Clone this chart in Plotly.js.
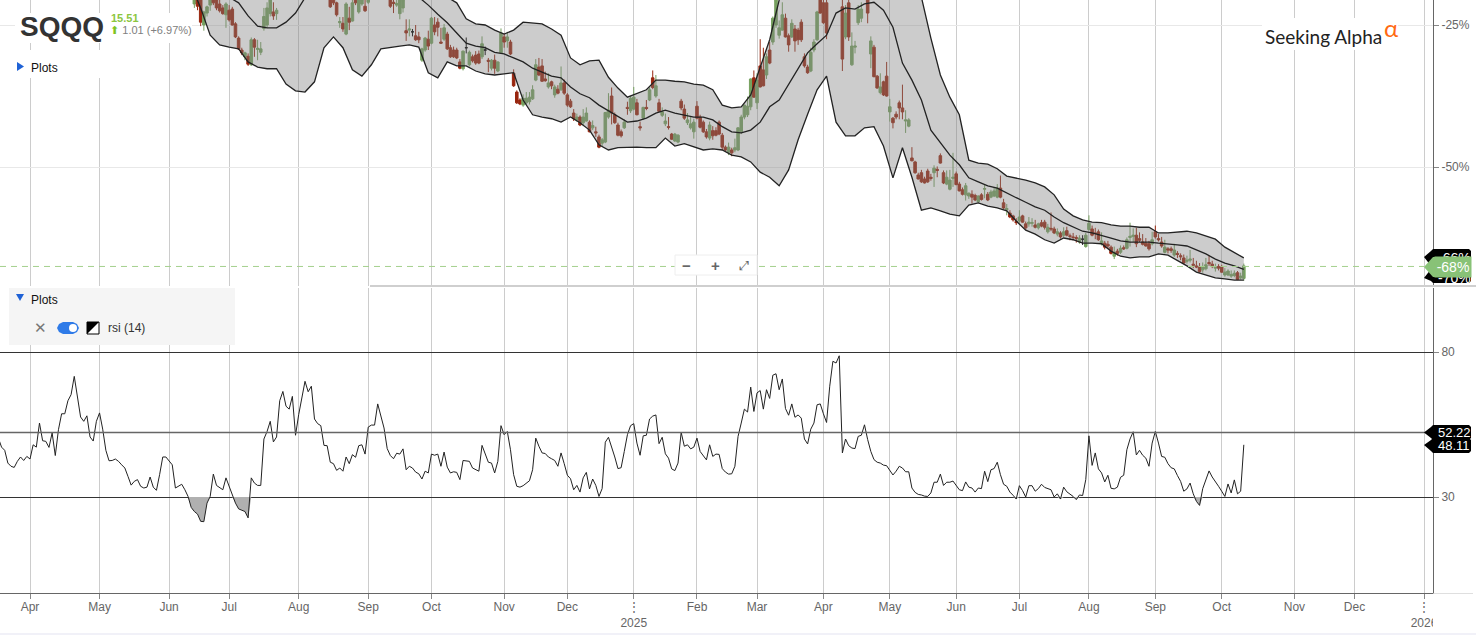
<!DOCTYPE html>
<html><head><meta charset="utf-8">
<script src="https://cdn.plot.ly/plotly-3.0.1.min.js"></script>
<style>html,body{margin:0;padding:0;background:#fff;overflow:hidden}#chart{width:1476px;height:635px}</style>
</head><body><div id="chart"></div>
<script>
// ---- calendar ----
const holidays = ["2024-03-29","2024-05-27","2024-06-19","2024-07-04","2024-09-02","2024-11-28","2024-12-25","2025-01-01","2025-01-09","2025-01-20","2025-02-17","2025-04-18","2025-05-26","2025-06-19","2025-07-04","2025-09-01","2025-11-27","2025-12-25","2026-01-01","2026-01-19"];
const monthTickDates = ["2024-04-01","2024-05-01","2024-06-03","2024-07-01","2024-08-01","2024-09-03","2024-10-01","2024-11-01","2024-12-02","2025-01-02","2025-02-03","2025-03-03","2025-04-01","2025-05-01","2025-06-02","2025-07-01","2025-08-01","2025-09-02","2025-10-01","2025-11-03","2025-12-01","2026-01-02"];
const monthTickLabels = ["Apr","May","Jun","Jul","Aug","Sep","Oct","Nov","Dec","⋮<br>2025","Feb","Mar","Apr","May","Jun","Jul","Aug","Sep","Oct","Nov","Dec","⋮<br>2026"];
const lastSessionDate = "2025-10-10";

// ---- RSI (14), one value per session, ending on the last session ----
const rsiPart1 = [50.3,47.2,46.1,41.7,40.6,40.2,42.3,43.8,42.6,44,43.1,48,47.2,55.5,49.4,49.2,47.1,52.1,44.3,53.2,58.7,58.7,63.2,65.3,71.6,65.3,57.6,56.1,58,50.7,49.3,56.1,59,53.4,46.1,42.5,42.6,43.1,42.3,41.1,40,37.1,34.1,35.4,36,33.7,33.1,33.4,36.9,33.4,32.3,37.7,43.8,43.8,42.3,41.1,33.1,33.7,34.4,32.5,30.2,26.4,25,24.1,21.6,21.5,27.9,30.2,37.9,34,33.1,32.5,36.6,33.7,30.8,27.9,25.9,25.5,25,22.8,36.6,34.8,34,34,50,52.6,56.1,49,50.7,63.2,66.4,61.3,60.3,64.7,51.3,58.4,64.1,69.9,66.3,68.2,56.9,55.3,54.6,47.8,47.7,42,41.5,39.2,40,38.9,43.8,41.5,44.6,43.7,47.7,48,44.8,54.1,54.8,54.8,62.1,57.6,53.8,46.7,44.3,43.2,45.1,44.8,46.6,39.4,40.6,40,38.6,38,36.2,38.9,38.3,44.8,44.4,44.8,40.6,45.5,40.3,38.3,38.7,38.5,36,42.6,42.5,42.3,40,39.4,38.9,47.8,44.6,42,41.7,38.3,42.3];
const rsiPart2 = [54.6,51.5,52.6,46.3,37.7,33.7,33.4,33.9,34.8,35.6,39.4,50.3,47.5,45.2,45,43.8,43.2,42.6,40.6,45.2,41.5,37.5,36.3,32.5,34,31.7,36.6,38.5,32.8,36.2,34,30.2,32.9,48.9,50.6,47.5,43.8,39.8,40.1,45.7,51.5,54.6,55.3,48.6,44.4,51.1,51.3,56.9,57.9,58.3,48.4,50.6,44.9,43.4,39.7,39.1,41.7,52.3,47.5,48,46.6,47.2,50.3,45.7,44.3,42.8,48,44,44.8,44.7,39.8,38.6,37.9,38,40.6,50.9,55.5,60.3,59.3,67.9,59.5,65.9,66.7,60.3,67,64,72,72.5,67,70.7,60.5,58.2,62.1,57.5,58.3,57.2,50,48.3,53.4,55.5,61.8,62.1,58.7,55.7,68.2,76.8,76.2,78.7,45.2,50,47.7,46.9,46.7,50.9,51.3,54.9,49.8,45.7,42.9,42,41.7,41,40.8,39.4,37.6,38.9,40.6,40,38.7,38.7,33.1,31.6,30.9,30.7,30.3,30.2,31.4,35.1,35.1,37.9,34,35.1,35.1,35.5,34,32.5,32.2,35.2,33.4,33.1,31.7,33.1,32.9,38.9,35.3,39.4,39.8,42];
const rsiPart3 = [37.7,34.4,33.7,31.7,30.6,29.3,33.9,32.2,30,33.9,33.9,32,32.9,34.4,33.3,32.9,32.5,30,31.1,29.3,33.4,31.8,31.1,30.2,29.1,30.7,30.5,36,51.1,40.9,45.2,39.7,38.3,35.2,37.5,33,32.8,33.4,36.8,37.5,46.3,50,52.5,44.5,46.1,44.4,43.4,40.6,48.6,52.6,48.6,44,43.7,41.5,40.1,39.7,37.4,35.4,32,32.8,34.8,31.1,28.5,27.1,32.9,36,39,36.9,35.1,33.7,32,30.2,34.5,31.4,35.9,31.1,32,48];
const rsiUpperLevel = 80, rsiLowerLevel = 30, rsiMiddleLevel = 52.22, rsiLastValue = 48.11;
const priceMarkerPct = -67.5;

// ---- Bollinger bands in % change, one sample every third session, ending on the last session ----
const bandStepSessions = 3;
const bandUpper = [-3,-4.8,-6.5,-8.3,-9.7,-10.9,-11.8,-12.7,-13.2,-13.2,-12.7,-11.8,-10.9,-10.4,-10,-9.7,-9.2,-9.2,-9.2,-9.2,-9.7,-10.4,-12.7,-15.3,-17.1,-18.1,-19,-20.1,-21.1,-23.9,-24.8,-25,-25.9,-26.6,-25.9,-24.5,-24.6,-24.8,-25.7,-26.8,-30.8,-32,-31.3,-31.2,-34.2,-36.1,-37.7,-37.1,-36.4,-34.7,-34.7,-34.9,-35,-35.4,-35.6,-36.4,-39.1,-39.6,-39.4,-37.3,-32.4,-27.6,-20.6,-17.1,-13.6,-11.8,-10.9,-10.9,-11.8,-12.7,-13.6,-13.6,-14.4,-15.3,-16.2,-17.4,-18.8,-20.1,-27.3,-33.8,-37.7,-40.8,-48.8,-49.3,-49.5,-50.3,-51.6,-51.9,-52.3,-52.8,-53.5,-54.9,-57.4,-58.6,-59.3,-59.7,-59.8,-60.2,-60.4,-60.4,-60.6,-60.6,-61.6,-61.6,-61.4,-61.3,-61.6,-62.1,-62.7,-64.1,-65.1,-66];
const bandMiddle = [-10.9,-14.4,-16.7,-18.5,-20.1,-21.1,-23.4,-25.2,-25.5,-25.5,-24.5,-22.9,-20.2,-18.5,-16.7,-15.3,-13.9,-13.2,-12.7,-12.7,-12.9,-13.6,-15.7,-18.1,-20.1,-21.5,-23.1,-24.6,-26.4,-28.2,-28.7,-29,-29.8,-30.1,-30.8,-31.5,-32.6,-33.3,-34,-34.3,-35.9,-37.1,-37.8,-39.1,-40.1,-41.2,-42.1,-41.9,-41.4,-40.5,-40,-40.5,-40.8,-41.2,-41.2,-41.7,-42.9,-43.8,-44,-43.5,-42.1,-39.4,-38.2,-35.4,-32.6,-29.9,-28.3,-26.8,-22.9,-22,-22.2,-21.3,-21,-22.4,-25.4,-31.7,-34.7,-38.2,-43.5,-45.8,-47.9,-49.6,-51.9,-52.6,-53.3,-53.7,-54.6,-55.4,-56.2,-57,-57.6,-58.8,-59.8,-60.6,-61.3,-61.6,-62,-62.5,-63,-63.2,-63.2,-63.2,-63.4,-63.5,-63.7,-63.9,-64.6,-65.3,-66.2,-66.9,-67.4,-68];
const bandLower = [-18,-22,-26.8,-28.5,-28.9,-29.2,-31.5,-32.4,-32.7,-32.7,-35.4,-36.6,-36.8,-35,-29,-27.1,-29,-32.9,-34,-32,-29.2,-28.9,-28.7,-28.5,-28.9,-33.4,-34.3,-31.5,-32.2,-32.2,-33.1,-33.6,-33.8,-33.6,-33.4,-38.2,-40.8,-41.2,-41.5,-42.1,-41.2,-42.2,-43.5,-46.1,-47,-46.6,-46.5,-46.5,-46.6,-46.6,-44.9,-46.3,-45.9,-46.5,-47,-46.8,-47,-47.9,-48.2,-49.1,-50.9,-51.8,-53.3,-50.5,-45.2,-40.7,-36.4,-34,-42.1,-44.5,-44.5,-43.1,-42.9,-46.3,-51.9,-46.6,-51.8,-57.6,-57.2,-57.7,-58.3,-58.6,-56.7,-56.3,-56.9,-57.2,-57.7,-59.5,-61.1,-61.8,-62.8,-63.4,-62.5,-62.8,-63.4,-63.4,-63.5,-64.8,-65.7,-66,-65.8,-65.8,-65.3,-65.5,-66.4,-67.4,-68.5,-69,-69.5,-69.7,-69.9,-69.9];

// ---- candles as [open, high, low, close] in % change; sessions above the visible range are left empty ----
const offChart = n => Array(n).fill([null,null,null,null]);
const candlesSummer2024 = [[-21.3,-20,-22,-20.6],[-20.5,-20,-22.4,-21.7],[-20.5,-20,-25.2,-24.5],[-25,-22.5,-26,-22.7],[-22.9,-21.6,-23.5,-21.8],[-21.5,-20,-22.5,-20.6],[-20.3,-20,-21.5,-21.1],[-20.6,-20,-22.4,-22],[-21.3,-20.6,-22.8,-22.5],[-22,-21.5,-23.2,-23],[-23.2,-21,-25.5,-21.3],[-22.4,-21.5,-24.4,-24.1],[-22.2,-21.8,-25.1,-25],[-24.8,-24.5,-27.3,-27.1],[-27.3,-27,-29.4,-29.2],[-29.4,-29,-30.3,-29.9],[-30.6,-29.7,-31.2,-29.9],[-30.5,-30,-32.2,-31.9],[-32,-27.2,-32.2,-27.6],[-27.6,-27.3,-30.6,-28.9],[-29.3,-27.6,-31.2,-29.1],[-29.8,-28,-30.3,-29.2],[-25.6,-22,-26,-23.5],[-25,-21,-25.5,-22],[-23,-20,-23.5,-20.6],[-22.7,-21,-24.1,-23.4],[-23,-22,-24.1,-22.4]];
const candlesFall2024a = [[-20.5,-20,-22,-21.8],[-20.5,-20,-21.5,-21.1],[-21.1,-20.9,-23.5,-23.2],[-24.6,-23.6,-25.5,-24.4],[-24.7,-23.6,-26.2,-25.7],[-26.6,-21,-26.8,-21.3],[-23.8,-21.8,-25.9,-24.5],[-24.3,-20.6,-24.4,-21.1],[-20.4,-20,-21.5,-21.1],[-22.7,-20,-23,-20.6],[-21.3,-20,-21.6,-20.5],[-21.7,-20.6,-22.7,-22.5],[-21,-20,-21.3,-20.4]];
const candlesFall2024b = [[-20.5,-20,-22,-21.7],[-21,-20.6,-22.9,-21.2],[-21.5,-20.6,-21.8,-21.2],[-23,-20.2,-24,-20.6],[-22,-20,-22.8,-20.6],[-26,-24,-27.8,-26.4],[-25.9,-24,-27,-25.7],[-26.2,-25.7,-27,-26.2],[-26.9,-25,-27.8,-27.6],[-27.1,-26.2,-28.2,-27.6],[-31.2,-29,-31.5,-29.2],[-29.4,-27.1,-29.7,-27.3],[-27.5,-26,-29.4,-28.7],[-28.2,-23.6,-28.4,-23.8],[-25,-23.6,-26.8,-26.2],[-24.5,-23.8,-27,-25.4],[-28,-25.5,-28.3,-28.2],[-27.5,-24.8,-27.8,-25.5],[-26.6,-26.2,-29.4,-29.2],[-29,-28.5,-30.8,-30.6],[-29.4,-28.8,-30.8,-30.6],[-29.4,-29,-31,-30.8],[-31.5,-31,-32.8,-32.6],[-32.7,-29.5,-33,-29.6],[-29,-27.2,-30,-29],[-32,-29.5,-32.3,-29.8],[-30.6,-30.2,-31.6,-31.3],[-30.3,-29.6,-32,-31.7],[-30.1,-29.5,-31.9,-31.7],[-30.6,-27,-31,-28.3],[-29.4,-28.8,-30.3,-29.4],[-31.2,-30.8,-33.3,-31.4],[-32.6,-31,-33,-31.2],[-31.2,-30.2,-33.6,-32.6],[-33.1,-31.4,-33.3,-31.5]];
const candlesWinter2025 = [[-29.9,-25.6,-30.1,-26.4],[-27.1,-26.5,-29,-28],[-27.8,-26.2,-29,-27.1],[-28,-27.6,-30.3,-30.1],[-33.5,-32.8,-35.9,-35.7],[-36.8,-36.5,-38.9,-38.7],[-38.2,-37.9,-39.1,-38.9],[-39.1,-37.2,-39.4,-37.9],[-38.7,-36.8,-39,-37.9],[-38.5,-36.8,-39,-37.7],[-38,-35.6,-38.2,-36.4],[-34.7,-31,-34.9,-32],[-32.4,-30.8,-34,-33.8],[-32.2,-31,-35,-34.9],[-34.5,-33.2,-35,-34.8],[-35.9,-33.5,-36.2,-35.2],[-35,-34.8,-36.3,-35.7],[-37.3,-35.5,-37.8,-35.9],[-36.3,-35.6,-37.2,-37],[-36.4,-32.3,-36.6,-35.2],[-35.2,-34.6,-37.3,-37],[-37.3,-37,-39.4,-39.1],[-38.4,-38,-39.6,-39.4],[-40.5,-39.8,-41.9,-41.5],[-41.7,-40.6,-42,-41.2],[-41.2,-40.9,-42.8,-42.6],[-42.2,-39.8,-42.8,-41.2],[-41.9,-39.5,-42,-40.5],[-42.1,-41.8,-43.9,-43.8],[-43.1,-41.8,-43.5,-42.7],[-43.8,-42.9,-44.7,-44],[-44.7,-44.3,-46.7,-46.5],[-45.8,-44.9,-46.3,-45.2],[-45.6,-40.3,-45.8,-40.4],[-41.2,-37,-41.5,-40],[-37.5,-36,-42.5,-40.5],[-40.8,-40.4,-42.4,-42.2],[-42.6,-42.2,-44.6,-44.4],[-43.8,-43.4,-44.8,-44.5],[-43.1,-41.6,-43.3,-42.1],[-39.5,-38.5,-40.8,-39.7],[-40.1,-37.5,-40.5,-37.9],[-39.8,-35.9,-40,-37.7],[-38.7,-38,-40.9,-40.8],[-42.9,-42,-43.6,-43.1],[-41.4,-39.4,-41.7,-39.5],[-39.5,-38.2,-40,-39.7],[-38.2,-36,-38.4,-36.4],[-34.3,-33,-36.3,-36],[-37.5,-33.8,-37.8,-35.7],[-38.7,-38,-40.3,-40.2],[-40.9,-39.5,-41.2,-40.3],[-42.4,-40.6,-42.8,-41.9],[-42.9,-41.2,-43.4,-43],[-44.2,-44,-45.2,-45.1],[-45.4,-44,-45.6,-44.2],[-45.6,-44.2,-45.8,-44.4],[-38.4,-38,-40,-39.6],[-39.8,-39,-41.7,-41.4],[-42.2,-40.5,-42.6,-41.7],[-43.1,-41,-43.4,-42.4],[-43.8,-41.5,-45,-42.1],[-39.3,-38.4,-41.6,-41.4],[-41.2,-40.8,-43.2,-43],[-42.1,-41.8,-44,-43.8],[-43.8,-43.3,-45,-44.7],[-44.9,-42,-45.3,-42.6],[-43.6,-42.8,-45.2,-44.5],[-43.6,-43,-44.6,-44.4],[-42.1,-41.8,-44.4,-44.2],[-44.4,-44,-47,-46.5],[-46.5,-46.2,-47.3,-47],[-47.4,-45.7,-47.9,-46.5],[-47,-46.6,-48.1,-47.5],[-47,-45,-47.4,-46.6]];
const candlesSpring2025a = [[-47,-43,-47.2,-43.1],[-43.8,-40.8,-44.2,-41.2],[-41.2,-39,-41.6,-39.1],[-40.8,-37.6,-41.2,-39.3],[-39.4,-34.4,-40,-34.5],[-34.3,-33,-37.8,-37.7],[-38.7,-33.5,-39.8,-34.7],[-32.2,-27.5,-36,-35.9],[-32.9,-29,-35.8,-35.7],[-33.8,-30,-34.5,-30.6],[-29.4,-28,-31.9,-31.7],[-28,-23.5,-28.5,-23.8],[-25,-20,-25.5,-20.6],[-26.8,-24.2,-27.4,-25.5],[-25.9,-21,-26,-23.2],[-23.8,-23,-27.2,-27.1],[-26.9,-26.5,-29.7,-28.5],[-27.1,-24,-27.3,-24.7],[-25.7,-25,-29.7,-27.8],[-25.9,-25.5,-28.5,-27.6],[-24.5,-24,-28,-27.6],[-30.6,-30,-32.5,-32.2],[-32.4,-32,-33.6,-33.4],[-33.1,-29,-33.3,-29.8],[-29.4,-27.5,-29.8,-28],[-27.6,-22.5,-27.8,-22.7],[-20.5,-20,-23,-22.9],[-21.1,-20.5,-24.8,-24.6],[-21.1,-20.5,-27.5,-26.4]];
const candlesSpring2025b = [[-21.8,-20.5,-33.1,-31],[-27.1,-21.5,-27.5,-22.9],[-21.1,-20.6,-27.8,-27.1],[-32,-26.3,-32.2,-28.7],[-28.9,-27.8,-30,-28.7],[-24.6,-21.5,-25,-22.2],[-23.8,-21,-24.5,-22.2]];
const candlesSpring2025c = [[-20.5,-20,-24.7,-22.9],[-30.1,-27,-32.6,-27.8],[-28.9,-28.5,-34.2,-34.1],[-34,-33.8,-36.2,-36.1],[-36.9,-33.5,-37.2,-35.9],[-35,-34.8,-37.5,-37.3],[-34,-31.5,-37.6,-37.5],[-40.3,-38,-42,-39.4],[-41.4,-41.2,-43.2,-42.2],[-40.7,-40.2,-41.6,-41.2],[-38.7,-38.3,-41.6,-39.6],[-39.6,-35.5,-41.6,-40.3],[-41.9,-40,-44,-41.7],[-42.8,-41.4,-43,-41.7]];
const candlesSummer2025 = [[-48.4,-46.5,-49,-48.9],[-49.1,-48.9,-51.2,-51],[-51.4,-51,-52.2,-52.1],[-51,-50.5,-52.8,-52.6],[-52.1,-51.7,-52.9,-52.8],[-50.7,-50.3,-52.8,-52.6],[-51.8,-51.2,-52.4,-52],[-51,-49.7,-53.5,-50.2],[-50.4,-49.9,-51.8,-50.6],[-48,-47.6,-49.4,-49.3],[-51,-50.6,-53,-52.8],[-53,-50.6,-53.2,-51.8],[-53.9,-50.5,-54.1,-52.3],[-52,-47.5,-53.5,-51.8],[-51.2,-50.8,-53.2,-53.1],[-53,-52.6,-54.3,-54.2],[-54,-53.6,-55,-54.8],[-54.9,-52.8,-55.9,-53.3],[-55.1,-54.5,-55.6,-54.6],[-54.8,-54.1,-56.4,-55.3],[-55,-54.7,-56,-55.8],[-56.1,-55,-56.3,-55.1],[-54.9,-54.6,-55.9,-55.7],[-53.9,-53,-55.5,-53.8],[-54.8,-54.4,-56,-55.8],[-55.3,-54,-55.5,-54.4],[-55.1,-53.6,-55.3,-54.2],[-55.3,-53,-55.5,-53.7],[-53.7,-51.5,-55.5,-55.3],[-56.3,-55.6,-57.4,-57.2],[-57.5,-56.5,-58.5,-57.3],[-58.1,-57.6,-59,-58.8],[-58.6,-58.4,-59.6,-59.3],[-59.6,-59,-60.2,-59.8],[-59.5,-57.6,-59.8,-58.8],[-58.6,-58.4,-59.8,-59.7],[-60,-59.6,-61,-60.7],[-60,-58.8,-60.5,-59.7],[-59.9,-59,-60.5,-59.8],[-60.2,-59.3,-60.8,-60.6],[-60.7,-59.8,-61,-60],[-59.8,-59.3,-60.6,-60.4],[-59.7,-59.3,-61,-60.6],[-61.4,-60,-61.7,-60.6],[-60.8,-58,-61.3,-60.9],[-60.9,-60.5,-61.8,-61.6],[-61.8,-60.8,-62.2,-61.4],[-61.6,-61.3,-62.6,-62.3],[-62,-60.6,-62.3,-61.4],[-61.2,-60.5,-62.2,-62],[-62.1,-61.7,-62.9,-62.2],[-62.3,-61.6,-62.9,-62.4],[-62.4,-62,-63.3,-62.6],[-63.2,-62,-63.5,-62.5],[-62.7,-62,-63.7,-62.7]];
const candlesAutumn2025 = [[-64,-61.6,-64.2,-62],[-61,-58.5,-61.2,-59.9],[-60.9,-60.3,-62.2,-62],[-61.6,-60.7,-62.7,-61.7],[-61.4,-61,-63,-62.8],[-63.5,-61.5,-63.8,-63],[-63.4,-63,-64.5,-64.1],[-63.6,-63,-64.4,-63.9],[-64.1,-63.8,-65.4,-65.2],[-65.7,-64,-66.2,-65],[-64.8,-64.4,-65.6,-65.2],[-65,-63.8,-65.3,-64.3],[-64.2,-63.8,-64.6,-64.4],[-64.3,-62.4,-64.5,-62.8],[-62.4,-59.8,-64,-62.2],[-62.2,-60.8,-63.2,-62],[-62,-60.7,-64.1,-63.5],[-62.6,-61.5,-63.2,-62.9],[-63.2,-61.8,-63.8,-63.6],[-63.4,-62.5,-64,-63.9],[-63.5,-63,-64.7,-64.4],[-63.5,-61.4,-63.8,-62.8],[-61.4,-60.3,-62.6,-62.3],[-62.6,-61.8,-63.1,-62.8],[-63.2,-62.3,-64.2,-63.9],[-65,-62.8,-65.2,-64.1],[-64.4,-64.1,-65.2,-64.6],[-64.4,-64,-65.1,-64.7],[-65.5,-63.5,-65.8,-64.6],[-65.2,-64.8,-66,-65.4],[-65.6,-65.2,-66.4,-65.8],[-66,-65.4,-67,-66.9],[-66.6,-65.6,-67,-66.4],[-66.4,-64.6,-66.8,-66.2],[-67.1,-66,-67.8,-67.3],[-67.4,-66.5,-67.8,-67.6],[-67.6,-66.9,-68.6,-68.4],[-68.1,-66.8,-68.6,-67.6],[-67.9,-66,-68.2,-67.2],[-66.8,-65.5,-67.4,-67],[-67.1,-66.5,-67.8,-67.4],[-67.8,-67,-68.4,-67.6],[-67.5,-67.1,-68.2,-67.8],[-67.6,-67.2,-68.6,-68.5],[-69,-67.8,-69.3,-68.5],[-69,-68,-69.2,-68.3],[-69.2,-68.2,-69.5,-68.9],[-69.1,-68.2,-69.4,-68.7],[-68.6,-68.3,-69.9,-69.8],[-69.5,-68.6,-69.8,-69.2],[-69.6,-67,-70,-67.4]];

const candles = [...candlesSummer2024, ...offChart(16), ...candlesFall2024a, ...offChart(6), ...candlesFall2024b, ...candlesWinter2025, ...candlesSpring2025a, ...offChart(4), ...candlesSpring2025b, ...offChart(1), ...candlesSpring2025c, ...candlesSummer2025, ...candlesAutumn2025];

// ---- build the session calendar ----
const sessions = [];
for (let d = new Date(Date.UTC(2024,2,1)); d <= new Date(Date.UTC(2026,0,30)); d = new Date(d.getTime()+864e5)) {
  const s = d.toISOString().slice(0,10), w = d.getUTCDay();
  if (w !== 0 && w !== 6 && !holidays.includes(s)) sessions.push(s);
}
const lastIdx = sessions.indexOf(lastSessionDate);
const rightAligned = n => sessions.slice(lastIdx-n+1, lastIdx+1);
const rsi = [...rsiPart1, ...rsiPart2, ...rsiPart3];
const rsiDates = rightAligned(rsi.length);
const bandDates = bandMiddle.map((_, k) => sessions[lastIdx - bandStepSessions*(bandMiddle.length-1-k)]);
const candleDates = rightAligned(candles.length);

const isDoji = r => r[0] !== null && r[0] === r[3];
const plain = candles.map((r,k)=>({r,d:candleDates[k]})).filter(o=>o.r[0]!==null && !isDoji(o.r));
const dojis = candles.map((r,k)=>({r,d:candleDates[k]})).filter(o=>isDoji(o.r));

// ---- page furniture: positions in page pixels ----
const W = 1476, H = 635, plotR = 1433, plotB = 593;
const X = p => p/plotR, Y = p => (plotB-p)/plotB;
const rect = (x0,y0,x1,y1,fill,line) => ({type:'rect',xref:'paper',yref:'paper',layer:'above',x0:X(x0),x1:X(x1),y0:Y(y0),y1:Y(y1),fillcolor:fill,line:{width:line?1:0,color:line||fill}});
const path = (pts,fill) => ({type:'path',xref:'paper',yref:'paper',layer:'above',fillcolor:fill,line:{width:0},
  path:'M'+pts.map(p=>X(p[0])+','+Y(p[1])).join(' L')+' Z'});
const tag = (cy,top,bot,fill,tip=1424,right=1471) => path([[tip,cy],[1431,top+2],[1433,top],[right-2,top],[right,top+2],[right,bot-2],[right-2,bot],[1433,bot],[1431,bot-2]],fill);
const txt = (x,y,text,size,color,extra={}) => Object.assign({xref:'paper',yref:'paper',x:X(x-2),y:Y(y),xanchor:'left',yanchor:'middle',showarrow:false,text,
  font:{family:'"Liberation Sans", Arial, sans-serif',size,color}},extra);

const shapes = [
  {type:'line',xref:'paper',yref:'y2',layer:'above',x0:0,x1:1,y0:rsiMiddleLevel,y1:rsiMiddleLevel,line:{color:'#666',width:1.5}},
  {type:'line',xref:'paper',yref:'y',layer:'above',x0:0,x1:X(1424),y0:priceMarkerPct,y1:priceMarkerPct,line:{color:'#a5d08e',width:1,dash:'6px,5px'}},
  rect(370,285,1476,287,'#cfcfcf'),
  rect(1433,593,1473,593.8,'#d5d5d5'),
  rect(0,633,1476,635,'#f1f1f8'),
  rect(1433,612,1476,632,'#ffffff'),
  rect(15,13,192,43,'#ffffff'),
  rect(30,50,100,78,'#ffffff'),
  rect(1262,18,1398,50,'#ffffff'),
  rect(9,288,235,345,'#f5f5f5'),
  path([[17,62],[24,66.5],[17,71]],'#1f62d6'),
  path([[16,294],[24,294],[20,301]],'#1f62d6'),
  path([[57,328],[59,324],[63,322],[73,322],[77,324],[79,328],[77,332],[73,334],[63,334],[59,332]],'#2f7be8'),
  {type:'circle',xref:'paper',yref:'paper',layer:'above',x0:X(69),x1:X(77),y0:Y(332),y1:Y(324),fillcolor:'#fff',line:{width:0}},
  rect(87,322,99,334,'#ffffff','#000000'),
  path([[87,334],[99,322],[87,322]],'#000000'),
  rect(675,255,757,275,'#ffffff','#eeeeee'),
  tag(257,249,268,'#000000'), tag(278,267,283,'#000000'),
  path([[1424,267],[1433,257],[1436,257],[1436,277],[1433,277]],'#88c277'),
  tag(432.5,425,440,'#000000'), tag(445,438,453,'#000000'),
];
const annotations = [
  txt(20,26,'<b>SQQQ</b>',28,'#333333'),
  txt(111,18,'<b>15.51</b>',11,'#8cc63f'),
  txt(110,31,'<span style="color:#7fc41f;font-family:DejaVu Sans">⬆</span> <span>1.01 (+6.97%)</span>',11,'#808080'),
  txt(31,68,'Plots',12,'#111111'),
  txt(31,300,'Plots',12,'#111111'),
  txt(34,328,'✕',15,'#777777',{font:{family:'DejaVu Sans',size:15,color:'#777777'}}),
  txt(108,328,'rsi (14)',12,'#333333'),
  txt(1265,36,'Seeking Alpha',19,'#222222',{font:{family:'Lato, sans-serif',size:19,color:'#222222'}}),
  txt(1384,28,'α',24,'#ff6a13',{font:{family:'Lato, sans-serif',size:24,color:'#ff6a13'}}),
  txt(686,265,'<b>−</b>',15,'#666666',{x:X(686),xanchor:'center'}),
  txt(715,265,'<b>+</b>',15,'#666666',{x:X(715),xanchor:'center'}),
  txt(744,265,'⤢',13,'#666666',{x:X(744),xanchor:'center',font:{family:'DejaVu Sans',size:13,color:'#666666'}}),
  txt(1438,258,'-66%',14,'#ffffff'),
  txt(1438,278,'-70%',14,'#ffffff'),
  txt(1435,267,'-68%',14,'#ffffff',{x:X(1434),width:36,height:20,bgcolor:'#88c277',align:'center',borderpad:0}),
  txt(1438,432.5,'52.22',13,'#ffffff'),
  txt(1438,445.5,'48.11',13,'#ffffff'),
];

// ---- axis calibration from the month ticks ----
const tickA = sessions.indexOf(monthTickDates[0]), tickB = sessions.indexOf(monthTickDates[monthTickDates.length-1]);
const pxPerSession = (1424-30)/(tickB-tickA);
const firstVisible = tickA - 30/pxPerSession;
const axisFont = {family:'"Liberation Sans", Arial, sans-serif',size:12,color:'#666666'};

const candleTrace = (rows,up,down) => ({type:'candlestick',xaxis:'x',yaxis:'y',x:rows.map(o=>o.d),
  open:rows.map(o=>o.r[0]),high:rows.map(o=>o.r[1]),low:rows.map(o=>o.r[2]),close:rows.map(o=>o.r[3]),
  increasing:{line:{color:up,width:1},fillcolor:up},decreasing:{line:{color:down,width:1},fillcolor:down},whiskerwidth:0,hoverinfo:'skip'});

const bandLine = {color:'#222222',width:1.3};
const data = [
  {type:'scatter',mode:'lines',x:bandDates,y:bandLower,line:bandLine,xaxis:'x',yaxis:'y',hoverinfo:'skip'},
  {type:'scatter',mode:'lines',x:bandDates,y:bandUpper,line:bandLine,fill:'tonexty',fillcolor:'rgba(128,128,128,0.4)',xaxis:'x',yaxis:'y',hoverinfo:'skip'},
  candleTrace(plain,'#76a05f','#98260f'),
  candleTrace(dojis,'#000000','#000000'),
  {type:'scatter',mode:'lines',x:bandDates,y:bandMiddle,line:bandLine,xaxis:'x',yaxis:'y',hoverinfo:'skip'},
  {type:'scatter',mode:'lines',x:rsiDates,y:rsiDates.map(()=>rsiLowerLevel),line:{width:0},xaxis:'x',yaxis:'y2',hoverinfo:'skip'},
  {type:'scatter',mode:'lines',x:rsiDates,y:rsi.map(v=>Math.min(v,rsiLowerLevel)),line:{width:0},fill:'tonexty',fillcolor:'#b0b0b0',xaxis:'x',yaxis:'y2',hoverinfo:'skip'},
  {type:'scatter',mode:'lines',x:rsiDates,y:rsi,line:{color:'#222222',width:1},xaxis:'x',yaxis:'y2',hoverinfo:'skip'},
];

const layout = {
  width:W,height:H,margin:{l:0,r:W-plotR,t:0,b:H-plotB,pad:0},paper_bgcolor:'#ffffff',plot_bgcolor:'#ffffff',showlegend:false,hovermode:false,boxmode:'overlay',boxgap:0.15,boxgroupgap:0.05,
  xaxis:{type:'category',categoryorder:'array',categoryarray:sessions,range:[firstVisible,firstVisible+plotR/pxPerSession],anchor:'y2',
    tickmode:'array',tickvals:monthTickDates,ticktext:monthTickLabels,tickangle:0,ticks:'outside',ticklen:5,ticklabelstandoff:-2,tickcolor:'#888888',tickfont:axisFont,
    showgrid:true,gridcolor:'#cccccc',gridwidth:1,showline:true,linecolor:'#666666',linewidth:1,zeroline:false,rangeslider:{visible:false}},
  yaxis:{domain:[(plotB-286)/plotB,1],range:[-70.94,-20.6],side:'right',anchor:'x',tickmode:'array',tickvals:[-25,-50],ticktext:['-25%','-50%'],
    ticks:'outside',ticklen:5,tickcolor:'#888888',tickfont:axisFont,gridcolor:'#e8e8e8',showline:true,linecolor:'#666666',linewidth:1,zeroline:false},
  yaxis2:{domain:[0,(plotB-288)/plotB],range:[-3.1,102.07],side:'right',anchor:'x',tickmode:'array',tickvals:[rsiLowerLevel,rsiUpperLevel],ticktext:['30','80'],
    ticks:'outside',ticklen:5,tickcolor:'#888888',tickfont:axisFont,gridcolor:'#333333',gridwidth:1,showline:true,linecolor:'#666666',linewidth:1,zeroline:false},
  shapes,annotations
};
Plotly.newPlot('chart',data,layout,{staticPlot:true,displayModeBar:false});
</script></body></html>
